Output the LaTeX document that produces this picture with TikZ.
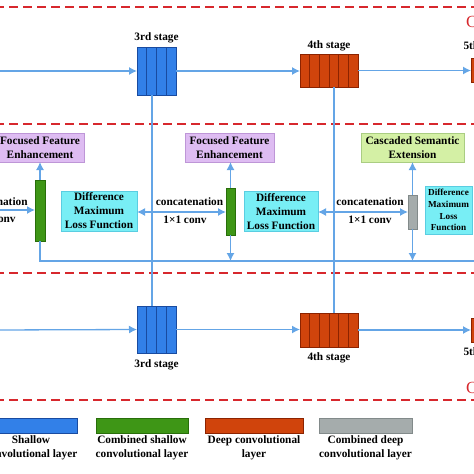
\documentclass[tikz,border=0pt]{standalone}
\usepackage{fontspec}
\setmainfont{Liberation Serif}
\usetikzlibrary{arrows.meta,calc}
\definecolor{redline}{RGB}{215,40,45}
\definecolor{arrowblue}{RGB}{100,165,230}
\definecolor{bluebar}{RGB}{50,128,232}
\definecolor{bluediv}{RGB}{25,75,160}
\definecolor{orangebar}{RGB}{208,68,12}
\definecolor{orangediv}{RGB}{140,35,0}
\definecolor{greenbar}{RGB}{62,150,22}
\definecolor{greendiv}{RGB}{40,110,10}
\definecolor{graybar}{RGB}{165,172,172}
\definecolor{graydiv}{RGB}{130,138,138}
\definecolor{purplefill}{RGB}{222,188,242}
\definecolor{purpledraw}{RGB}{190,150,215}
\definecolor{cyanfill}{RGB}{120,238,245}
\definecolor{cyandraw}{RGB}{90,205,225}
\definecolor{limefill}{RGB}{212,240,165}
\definecolor{limedraw}{RGB}{170,205,130}
\begin{document}
\begin{tikzpicture}[x=1pt,y=-1pt,
  every node/.style={font=\fontsize{11.3}{14}\selectfont\bfseries, inner sep=0pt, outer sep=0pt},
  blk/.style={draw=#1, line width=0.5pt, rectangle},
  redsep/.style={draw=redline, line width=1.4pt, dash pattern=on 9pt off 5pt},
  arr/.style={draw=arrowblue, line width=1.3pt, -{Latex[length=8pt,width=8pt]}},
  darr/.style={draw=arrowblue, line width=1.3pt, {Latex[length=8pt,width=8pt]}-{Latex[length=8pt,width=8pt]}},
  conn/.style={draw=arrowblue, line width=1.3pt},
  infobox/.style={draw=#1, line width=0.6pt, rectangle, align=center},
  lbl/.style={align=center},
  redtag/.style={font=\fontsize{17}{20}\selectfont, text=redline, anchor=west}
]
\useasboundingbox (0,0) rectangle (474,474);

% red dashed separators
\coordinate (l1a) at (-5,7);   \coordinate (l1b) at (480,7);
\coordinate (l2a) at (-5,124); \coordinate (l2b) at (480,124);
\coordinate (l3a) at (-5,273); \coordinate (l3b) at (480,273);
\coordinate (l4a) at (-5,400); \coordinate (l4b) at (480,400);
\draw[redsep] (l1a) -- (l1b);
\draw[redsep] (l2a) -- (l2b);
\draw[redsep] (l3a) -- (l3b);
\draw[redsep] (l4a) -- (l4b);

\node[redtag] (ctop) at (466,22) {C};
\node[redtag] (cbot) at (466,388) {C};

% ---------- top row ----------
\node[blk=bluediv, fill=bluebar, minimum width=39, minimum height=48] (s3t) at (156.5,71) {};
\node[blk=orangediv, fill=orangebar, minimum width=58, minimum height=33] (s4t) at (329,70.5) {};
\node[blk=orangediv, fill=orangebar, minimum width=12, minimum height=24] (s5t) at (477,70) {};
\foreach \i in {1,2,3}
  \draw[bluediv, line width=0.6pt] ($(s3t.north west)!\i/4!(s3t.north east)$) -- ($(s3t.south west)!\i/4!(s3t.south east)$);
\foreach \i in {1,...,5}
  \draw[orangediv, line width=0.6pt] ($(s4t.north west)!\i/6!(s4t.north east)$) -- ($(s4t.south west)!\i/6!(s4t.south east)$);
\node[lbl] (s3tl) at (156.5,38) {3rd stage};
\node[lbl] (s4tl) at (329,46) {4th stage};
\node[lbl] (s5tl) at (485,47) {5th stage};
\coordinate (int) at (-5,71);
\draw[arr] (int) -- (s3t.west);
\draw[arr] (s3t.east) -- (s3t.east -| s4t.west);
\draw[arr] (s4t.east) -- (s4t.east -| s5t.west);

% ---------- bottom row ----------
\node[blk=bluediv, fill=bluebar, minimum width=39, minimum height=47] (s3b) at (156.5,329.5) {};
\node[blk=orangediv, fill=orangebar, minimum width=58, minimum height=34] (s4b) at (329,330) {};
\node[blk=orangediv, fill=orangebar, minimum width=12, minimum height=24] (s5b) at (477,330) {};
\foreach \i in {1,2,3}
  \draw[bluediv, line width=0.6pt] ($(s3b.north west)!\i/4!(s3b.north east)$) -- ($(s3b.south west)!\i/4!(s3b.south east)$);
\foreach \i in {1,...,5}
  \draw[orangediv, line width=0.6pt] ($(s4b.north west)!\i/6!(s4b.north east)$) -- ($(s4b.south west)!\i/6!(s4b.south east)$);
\node[lbl] (s3bl) at (156.5,365) {3rd stage};
\node[lbl] (s4bl) at (329,358) {4th stage};
\node[lbl] (s5bl) at (485,353) {5th stage};
\coordinate (inb) at (-5,330);
\draw[arr] (inb) -- (s3b.west);
\draw[arr] (s3b.east) -- (s3b.east -| s4b.west);
\draw[arr] (s4b.east) -- (s4b.east -| s5b.west);

% vertical links between the two rows
\draw[conn] ([xshift=-4.5pt]s3t.south) -- ([xshift=-4.5pt]s3b.north);
\draw[conn] ([xshift=5pt]s4t.south) -- ([xshift=5pt]s4b.north);

% ---------- middle section ----------
\node[infobox=purpledraw, fill=purplefill, minimum width=89, minimum height=29] (ffe1) at (40,147.5) {Focused Feature\\Enhancement};
\node[infobox=purpledraw, fill=purplefill, minimum width=89, minimum height=29] (ffe2) at (229.5,147.5) {Focused Feature\\Enhancement};
\node[infobox=limedraw, fill=limefill, minimum width=103, minimum height=29] (cse) at (412.5,147.5) {Cascaded Semantic\\Extension};

\node[infobox=cyandraw, fill=cyanfill, minimum width=76, minimum height=40] (d1) at (99,211) {Difference\\Maximum\\Loss Function};
\node[infobox=cyandraw, fill=cyanfill, minimum width=74, minimum height=40] (d2) at (281,211.5) {Difference\\Maximum\\Loss Function};
\node[infobox=cyandraw, fill=cyanfill, minimum width=47, minimum height=48, font=\fontsize{9.2}{11.7}\selectfont\bfseries] (d3) at (448.5,210) {Difference\\Maximum\\Loss\\Function};

\node[blk=greendiv, fill=greenbar, minimum width=10, minimum height=61] (g1) at (40,210.5) {};
\node[blk=greendiv, fill=greenbar, minimum width=9, minimum height=47] (g2) at (230.5,211.5) {};
\node[blk=graydiv, fill=graybar, minimum width=9, minimum height=34] (gr) at (412.5,212) {};

\draw[arr] (g1.north) -- (ffe1.south -| g1.north);
\draw[arr] (g2.north) -- (ffe2.south -| g2.north);
\draw[arr] (gr.north) -- (cse.south -| gr.north);

\coordinate (busL) at (40,261);
\coordinate (busR) at (480,261);
\draw[conn] (g1.south) -- (busL) -- (busR);
\draw[arr] (g2.south) -- (g2.south |- busL);
\draw[arr] (gr.south) -- (gr.south |- busL);

\coordinate (inm) at (-60,210);
\draw[arr] (inm) -- (g1.west |- inm);
\draw[darr] (d1.east |- 0,212) -- (g2.west |- 0,212);
\draw[darr] (d2.east |- 0,212) -- (gr.west |- 0,212);

\node[lbl] (ct0) at (-6,202) {concatenation};
\node[lbl] (cv0) at (-6,219) {1×1 conv};
\node[lbl] (ct1) at (189.5,202) {concatenation};
\node[lbl] (cv1) at (185,220) {1×1 conv};
\node[lbl] (ct2) at (370,202) {concatenation};
\node[lbl] (cv2) at (370,220) {1×1 conv};

% ---------- legend ----------
\node[blk=bluediv, fill=bluebar, minimum width=92, minimum height=15] (lg1) at (31,425.5) {};
\node[blk=greendiv, fill=greenbar, minimum width=92, minimum height=15] (lg2) at (142,425.5) {};
\node[blk=orangediv, fill=orangebar, minimum width=98, minimum height=15] (lg3) at (254,425.5) {};
\node[blk=graydiv, fill=graybar, minimum width=93, minimum height=15] (lg4) at (365.5,425.5) {};
\node[lbl] (lt1) at (31,448) {Shallow\\convolutional layer};
\node[lbl] (lt2) at (142,448) {Combined shallow\\convolutional layer};
\node[lbl] (lt3) at (254,448) {Deep convolutional\\layer};
\node[lbl] (lt4) at (365.5,448) {Combined deep\\convolutional layer};
\end{tikzpicture}
\end{document}
